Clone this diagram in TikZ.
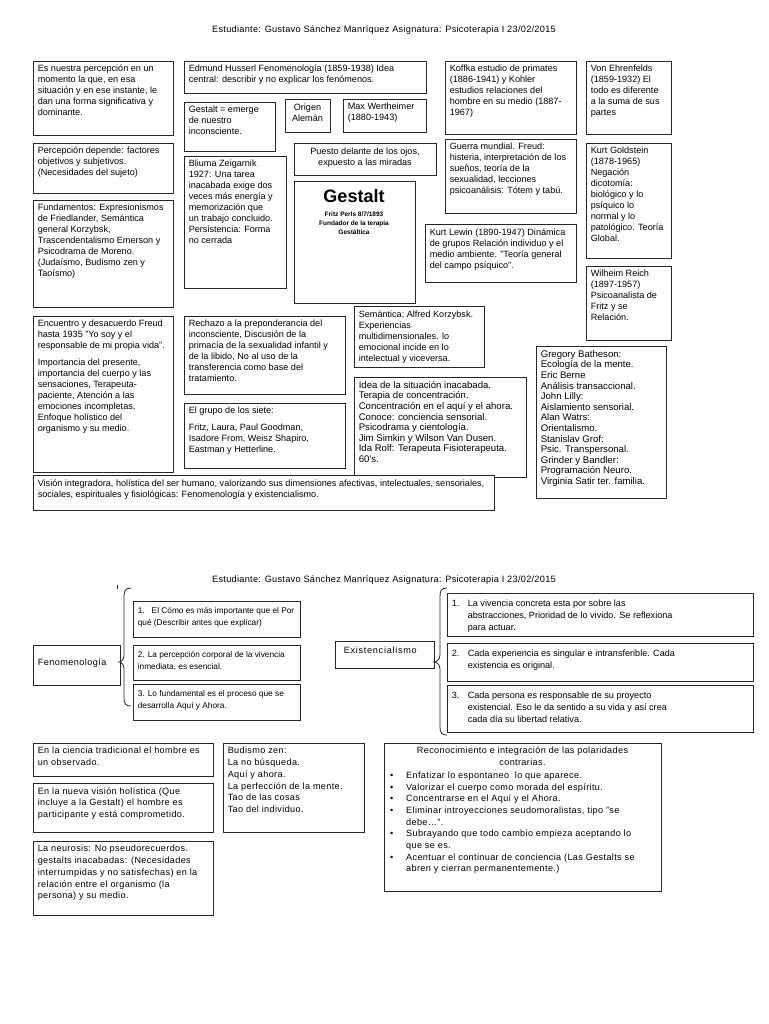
\documentclass[tikz,border=0pt]{standalone}
\usepackage{fontspec}
\setmainfont{Liberation Sans}
\usetikzlibrary{fit}
\tikzset{
  box/.style={draw=black!85, line width=0.8pt, fill=white, inner sep=0pt},
  txt/.style={anchor=north west, align=left, inner xsep=5pt, inner ysep=4.5pt,
    font=\fontsize{9.1}{11}\selectfont},
  bigtxt/.style={txt, font=\fontsize{9.6}{10.6}\selectfont},
  ctxt/.style={align=center, inner sep=0pt, font=\fontsize{9.1}{11}\selectfont},
  btxt/.style={txt, font=\fontsize{9.1}{11.7}\selectfont\addfontfeature{LetterSpace=4}},
  itxt/.style={txt, inner ysep=7pt, font=\fontsize{9.1}{11.8}\selectfont},
  ltxt/.style={txt, inner ysep=7pt, font=\fontsize{8.3}{11.8}\selectfont},
  hdr/.style={inner sep=0pt, font=\fontsize{9.2}{10}\selectfont\addfontfeature{LetterSpace=3}},
  bracepath/.style={draw=black!85, line width=0.8pt},
}
% name, x1, y1, x2, y2, text  (optional: text style)
\newcommand\bx[7][txt]{%
  \node[box, fit={(#3,#4) (#5,#6)}] (#2) {};
  \node[#1] (#2t) at (#2.north west) {#7};}
\newcommand\ebx[5]{%
  \node[box, fit={(#2,#3) (#4,#5)}] (#1) {};}
\newcommand\hang{\hspace*{16pt}}
\newcommand\num[1]{\makebox[16pt][l]{#1}}
\begin{document}
\begin{tikzpicture}[x=1pt,y=-1pt]
\useasboundingbox[fill=white] (0,0) rectangle (768,1024);

% ---------- top sheet ----------
\node[hdr] (hdr1) at (384,30) {Estudiante: Gustavo Sánchez Manríquez Asignatura: Psicoterapia I 23/02/2015};

\bx{a}{33}{61}{173}{135}{Es nuestra percepción en un\\momento la que, en esa\\situación y en ese instante, le\\dan una forma significativa y\\dominante.}
\bx{b}{33}{143}{173}{193}{Percepción depende: factores\\objetivos y subjetivos.\\(Necesidades del sujeto)}
\bx{c}{33}{200}{173}{307}{Fundamentos: Expresionismos\\de Friedlander, Semántica\\general Korzybsk,\\Trascendentalismo Emerson y\\Psicodrama de Moreno.\\(Judaísmo, Budismo zen y\\Taoísmo)}
\bx{d}{33}{316}{173}{472}{Encuentro y desacuerdo Freud\\hasta 1935 "Yo soy y el\\responsable de mi propia vida".\\[6pt]Importancia del presente,\\importancia del cuerpo y las\\sensaciones, Terapeuta-\\paciente, Atención a las\\emociones incompletas,\\Enfoque holístico del\\organismo y su medio.}

\bx{e}{184}{61}{426}{93}{Edmund Husserl Fenomenología (1859-1938) Idea\\central: describir y no explicar los fenómenos.}
\bx{f}{184}{102}{275}{151}{Gestalt = emerge\\de nuestro\\inconsciente.}
\ebx{g}{285}{99}{330}{132}
\node[ctxt, anchor=north] (gt) at ([yshift=-5.5pt]g.north) {Origen\\Alemán};
\bx{h}{343}{99}{426}{132}{Max Wertheimer\\(1880-1943)}
\ebx{i}{294}{143}{436}{175}
\node[ctxt, anchor=north] (it) at ([yshift=-5.5pt]i.north) {Puesto delante de los ojos,\\expuesto a las miradas};
\bx{j}{184}{156}{286}{288}{Bliuma Zeigarnik\\1927: Una tarea\\inacabada exige dos\\veces más energía y\\memorización que\\un trabajo concluido.\\Persistencia: Forma\\no cerrada}
\ebx{k}{294}{181}{415}{303}
\node[inner sep=0pt, font=\bfseries\fontsize{18}{20}\selectfont] (kt) at (354,196) {Gestalt};
\node[align=center, inner sep=0pt, anchor=north, font=\bfseries\fontsize{6.5}{8.8}\selectfont] (ks) at (354,212) {Fritz Perls 8/7/1893\\Fundador de la terapia\\Gestáltica};

\bx{l}{445}{61}{576}{134}{Koffka estudio de primates\\(1886-1941) y Kohler\\estudios relaciones del\\hombre en su medio (1887-\\1967)}
\bx{m}{586}{61}{671}{134}{Von Ehrenfelds\\(1859-1932) El\\todo es diferente\\a la suma de sus\\partes}
\bx{n}{445}{139}{576}{213}{Guerra mundial. Freud:\\histeria, interpretación de los\\sueños, teoría de la\\sexualidad, lecciones\\psicoanálisis: Tótem y tabú.}
\bx{o}{586}{143}{671}{258}{Kurt Goldstein\\(1878-1965)\\Negación\\dicotomía:\\biológico y lo\\psíquico lo\\normal y lo\\patológico. Teoría\\Global.}
\bx{p}{425}{224}{576}{282}{Kurt Lewin (1890-1947) Dinámica\\de grupos Relación individuo y el\\medio ambiente. "Teoría general\\del campo psíquico".}
\bx{q}{586}{266}{671}{340}{Wilheim Reich\\(1897-1957)\\Psicoanalista de\\Fritz y se\\Relación.}

\bx{r}{184}{316}{345}{394}{Rechazo a la preponderancia del\\inconsciente, Discusión de la\\primacía de la sexualidad infantil y\\de la libido, No al uso de la\\transferencia como base del\\tratamiento.}
\bx{s}{184}{403}{345}{468}{El grupo de los siete:\\[6pt]Fritz, Laura, Paul Goodman,\\Isadore From, Weisz Shapiro,\\Eastman y Hetterline.}
\bx{t}{354}{306}{484}{367}{Semántica; Alfred Korzybsk.\\Experiencias\\multidimensionales. lo\\emocional incide en lo\\intelectual y viceversa.}
\bx[bigtxt]{u}{354}{377}{526}{477}{Idea de la situación inacabada.\\Terapia de concentración.\\Concentración en el aquí y el ahora.\\Conoce: conciencia sensorial.\\Psicodrama y cientología.\\Jim Simkin y Wilson Van Dusen.\\Ida Rolf: Terapeuta Fisioterapeuta.\\60's.}
\bx[bigtxt]{v}{536}{346}{666}{498}{Gregory Batheson:\\Ecología de la mente.\\Eric Berne\\Análisis transaccional.\\John Lilly:\\Aislamiento sensorial.\\Alan Watrs:\\Orientalismo.\\Stanislav Grof:\\Psic. Transpersonal.\\Grinder y Bandler:\\Programación Neuro.\\Virginia Satir ter. familia.}
\bx{w}{33}{475}{494}{510}{Visión integradora, holística del ser humano, valorizando sus dimensiones afectivas, intelectuales, sensoriales,\\sociales, espirituales y fisiológicas: Fenomenología y existencialismo.}

% ---------- bottom sheet ----------
\node[hdr] (hdr2) at (384,580) {Estudiante: Gustavo Sánchez Manríquez Asignatura: Psicoterapia I 23/02/2015};

\ebx{fen}{33}{645}{120}{685}
\node[txt, anchor=west, font=\fontsize{9.1}{11}\selectfont\addfontfeature{LetterSpace=5}] (fent) at ([yshift=2pt]fen.west) {Fenomenología};
\bx[ltxt]{l1}{133}{601}{300}{637}{1.\hspace{7pt}El Cómo es más importante que el Por\\qué (Describir antes que explicar)}
\bx[ltxt]{l2}{133}{645}{300}{680}{2. La percepción corporal de la vivencia\\inmediata, es esencial.}
\bx[ltxt]{l3}{133}{684}{300}{720}{3. Lo fundamental es el proceso que se\\desarrolla Aquí y Ahora.}

\ebx{ex}{335}{641}{434}{668}
\node[txt, inner ysep=6pt, font=\fontsize{9.1}{11}\selectfont\addfontfeature{LetterSpace=8}] (ext) at ([xshift=4pt]ex.north west) {Existencialismo};
\bx[itxt]{r1}{447}{593}{753}{636}{\num{1.}La vivencia concreta esta por sobre las\\\hang abstracciones, Prioridad de lo vivido. Se reflexiona\\\hang para actuar.}
\bx[itxt]{r2}{447}{643}{753}{681}{\num{2.}Cada experiencia es singular e intransferible. Cada\\\hang existencia es original.}
\bx[itxt]{r3}{447}{685}{753}{732}{\num{3.}Cada persona es responsable de su proyecto\\\hang existencial. Eso le da sentido a su vida y así crea\\\hang cada día su libertad relativa.}

% braces
\coordinate (lbT) at (131,588);
\coordinate (lbM) at (119,662);
\coordinate (lbB) at (131,706);
\draw[bracepath] (lbT) .. controls (125,588) and (124,591) .. (124,597) -- (124,655)
  .. controls (124,660) and (121,662) .. (lbM)
  .. controls (121,662) and (124,664) .. (124,669) -- (124,698)
  .. controls (124,704) and (126,706) .. (lbB);
\coordinate (tk1) at (117,585);
\coordinate (tk2) at (117,589);
\draw[bracepath, line width=0.6pt] (tk1) -- (tk2);
\coordinate (rbT) at (447,588);
\coordinate (rbM) at (434,662);
\coordinate (rbB) at (447,735);
\draw[bracepath] (rbT) .. controls (441,588) and (440,591) .. (440,597) -- (440,655)
  .. controls (440,660) and (436,662) .. (rbM)
  .. controls (436,662) and (440,664) .. (440,669) -- (440,727)
  .. controls (440,733) and (442,735) .. (rbB);

\bx[btxt]{x1}{33}{743}{213}{776}{En la ciencia tradicional el hombre es\\un observado.}
\bx[btxt]{x2}{33}{783}{213}{832}{En la nueva visión holística (Que\\incluye a la Gestalt) el hombre es\\participante y está comprometido.}
\bx[btxt]{x3}{33}{841}{213}{915}{La neurosis: No pseudorecuerdos.\\gestalts inacabadas: (Necesidades\\interrumpidas y no satisfechas) en la\\relación entre el organismo (la\\persona) y su medio.}
\bx[btxt]{x4}{223}{743}{364}{832}{Budismo zen:\\La no búsqueda.\\Aquí y ahora.\\La perfección de la mente.\\Tao de las cosas\\Tao del individuo.}
\ebx{x5}{384}{743}{661}{891}
\node[ctxt, anchor=north, font=\fontsize{9.1}{11.7}\selectfont\addfontfeature{LetterSpace=4}] (x5t) at ([yshift=-4pt]x5.north) {Reconocimiento e integración de las polaridades\\contrarias.};
\node[btxt] (x5b) at (385,767) {\num{•}Enfatizar lo espontaneo\ \ lo que aparece.\\\num{•}Valorizar el cuerpo como morada del espíritu.\\\num{•}Concentrarse en el Aquí y el Ahora.\\\num{•}Eliminar introyecciones seudomoralistas, tipo "se\\\hang debe…".\\\num{•}Subrayando que todo cambio empieza aceptando lo\\\hang que se es.\\\num{•}Acentuar el continuar de conciencia (Las Gestalts se\\\hang abren y cierran permanentemente.)};
\end{tikzpicture}
\end{document}
